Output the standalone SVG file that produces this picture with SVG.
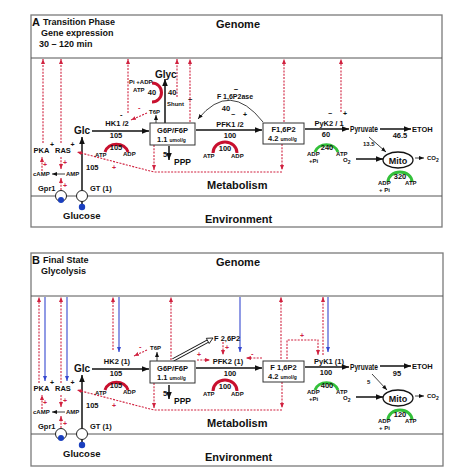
<svg xmlns="http://www.w3.org/2000/svg" width="474" height="474" viewBox="0 0 474 474">
<defs>
<style>
text{font-family:"Liberation Sans",Arial,sans-serif;fill:#111;font-weight:bold;font-size:7.5px}
.big{font-size:11px}
.ttl{font-size:9px}
.sm{font-size:6px}
.xs{font-size:5px}
.sg{font-size:7px}
.mid{text-anchor:middle}
.red{fill:#d0213f}
.frame{fill:none;stroke:#7a7a7a;stroke-width:1.3}
.sep{stroke:#555;stroke-width:1}
.box{fill:#fff;stroke:#333;stroke-width:1}
.flow{stroke:#111;stroke-width:1.5;fill:none;marker-end:url(#hk)}
.thin{stroke:#111;stroke-width:0.8;fill:none;marker-end:url(#hks)}
.gene{stroke:#d0213f;stroke-width:1.1;stroke-dasharray:2 1.3;fill:none;marker-end:url(#hr)}
.blue{stroke:#3548d0;stroke-width:1.1;fill:none;marker-end:url(#hb)}
.arcR{stroke:#c8102e;stroke-width:3;fill:none}
.arcG{stroke:#33c03a;stroke-width:3;fill:none}
.circ{fill:#fff;stroke:#222;stroke-width:1}
.dot{fill:#1a3fbf}
</style>
<marker id="hk" viewBox="0 0 10 10" refX="10" refY="5" markerWidth="7" markerHeight="7" orient="auto" markerUnits="userSpaceOnUse"><path d="M0,1 L10,5 L0,9 z" fill="#111"/></marker>
<marker id="hks" viewBox="0 0 10 10" refX="10" refY="5" markerWidth="5" markerHeight="5" orient="auto" markerUnits="userSpaceOnUse"><path d="M0,1 L10,5 L0,9 z" fill="#111"/></marker>
<marker id="hr" viewBox="0 0 10 10" refX="10" refY="5" markerWidth="5" markerHeight="5" orient="auto" markerUnits="userSpaceOnUse"><path d="M0,1 L10,5 L0,9 z" fill="#d0213f"/></marker>
<marker id="hb" viewBox="0 0 10 10" refX="10" refY="5" markerWidth="5" markerHeight="5" orient="auto" markerUnits="userSpaceOnUse"><path d="M0,1 L10,5 L0,9 z" fill="#3548d0"/></marker>
</defs>
<rect width="474" height="474" fill="#fff"/>

<!-- ================= PANEL A ================= -->
<g id="panelA-frame">
<rect class="frame" x="31" y="15" width="411" height="212"/>
<line class="sep" x1="31" y1="58" x2="442" y2="58"/>
<line class="sep" x1="31" y1="196" x2="442" y2="196"/>
<text x="32" y="26" class="big">A</text>
<text x="43" y="25" class="ttl">Transition Phase</text>
<text x="41" y="36" class="ttl">Gene expression</text>
<text x="39" y="47" class="ttl">30 – 120 min</text>
<text x="216" y="28" class="big">Genome</text>
<text x="207" y="189" class="big">Metabolism</text>
<text x="205" y="223" class="big">Environment</text>
</g>

<g id="connectors-A">
<line class="gene" x1="43" y1="143" x2="43" y2="59"/>
<line class="gene" x1="61" y1="143" x2="61" y2="59"/>
<line class="gene" x1="128" y1="113" x2="128" y2="59"/>
<line class="gene" x1="177" y1="97" x2="177" y2="59"/>
<line class="gene" x1="190" y1="122" x2="190" y2="59"/>
<line class="gene" x1="284" y1="122" x2="284" y2="59"/>
<line class="gene" x1="341" y1="112" x2="341" y2="59"/>
<line class="flow" x1="82" y1="207" x2="82" y2="137"/>
<line class="flow" x1="92" y1="131" x2="149" y2="131"/>
<line class="flow" x1="196" y1="130" x2="262" y2="130"/>
<line class="flow" x1="305" y1="129" x2="349" y2="129"/>
<line class="flow" x1="380" y1="129" x2="411" y2="129"/>
<line class="flow" x1="165" y1="123" x2="165" y2="79"/>
<line class="flow" x1="169" y1="146" x2="169" y2="160"/>
<line class="flow" x1="356" y1="159" x2="383" y2="159"/>
<line class="thin" x1="415" y1="158" x2="424" y2="158"/>
<line class="thin" x1="369" y1="137" x2="386" y2="152"/>
<line class="thin" x1="156" y1="123" x2="156" y2="115"/>
<line class="thin" x1="65" y1="174" x2="52" y2="174"/>
<path class="thin" d="M263,122 Q230,80 198,119"/>
<line class="gene" x1="42" y1="171" x2="42" y2="157"/>
<line class="gene" x1="61" y1="157" x2="61" y2="169"/>
<line class="gene" x1="61" y1="190" x2="61" y2="178"/>
<line class="gene" x1="147" y1="113" x2="131" y2="120"/>
<line class="gene" x1="154" y1="145" x2="154" y2="170"/>
<line class="gene" x1="282" y1="144" x2="282" y2="170"/>
<path class="gene" d="M282,172 H154 L77,152"/>
</g>

<g id="A-signals-text">
<text x="43" y="167" class="red sg">+</text>
<text x="63" y="165" class="red sg">+</text>
<text x="63" y="188" class="red sg">+</text>
<text x="112" y="170" class="red sg">+</text>
<text x="138" y="110" class="red">-</text>
<text x="120" y="117">-</text>
<text x="188" y="102">−</text>
<text x="231" y="117" class="sg">−</text>
<text x="243" y="117" class="sg">+</text>
<text x="328" y="116" class="sg">−</text>
<text x="343" y="116" class="sg">+</text>
</g>

<g id="A-PKA"><text x="33.5" y="153">PKA</text><text x="50" y="147" class="sg">+</text></g>
<g id="A-RAS"><text x="55" y="153">RAS</text><text x="70.5" y="147" class="sg">+</text></g>
<g id="A-cAMP"><text x="33" y="176" class="sm">cAMP</text></g>
<g id="A-AMP"><text x="66" y="176" class="sm">AMP</text></g>
<g id="A-Gpr1"><circle class="circ" cx="61" cy="196" r="5.5"/><circle class="dot" cx="61" cy="200" r="3"/><text x="38" y="191">Gpr1</text></g>
<g id="A-GT"><circle class="circ" cx="82" cy="196" r="5.5"/><circle class="dot" cx="82" cy="207" r="3.2"/><text x="90" y="191">GT (1)</text></g>
<g id="A-Glucose"><text x="63" y="219" style="font-size:9.5px">Glucose</text></g>
<g id="A-Glc"><text x="74" y="134" style="font-size:10px">Glc</text><text x="86" y="170">105</text></g>
<g id="A-HK"><text x="117" y="126" class="mid">HK1 /2</text><text x="116" y="138" class="mid">105</text>
<path class="arcR" d="M105,152 A12,11 0 0 1 128,152"/><text x="116" y="150" class="mid">105</text>
<text x="95" y="157" class="sm">ATP</text><text x="123" y="156" class="sm">ADP</text></g>
<g id="A-G6P"><rect class="box" x="150" y="123" width="45" height="22"/><text x="172.5" y="133" class="mid">G6P/F6P</text><text x="157" y="142">1.1 <tspan class="xs">umol/g</tspan></text></g>
<g id="A-PPP"><text x="163" y="157">5</text><text x="174" y="165" style="font-size:8.5px">PPP</text></g>
<g id="A-Glyc"><text x="155" y="78" style="font-size:10px">Glyc</text><text x="168" y="95">40</text>
<path class="arcR" d="M152,83 A9.5,9.5 0 0 1 152,102"/><text x="152" y="95" class="mid">40</text>
<text x="129" y="84" class="sm">Pi +ADP</text><text x="133" y="92" class="sm">ATP</text><text x="167" y="106" class="sm">Shunt</text></g>
<g id="A-T6P"><text x="149" y="114" class="sm">T6P</text></g>
<g id="A-F16P2ase"><text x="236" y="92" class="mid">−</text><text x="235" y="99" class="mid" style="font-size:7px">F 1,6P2ase</text><text x="226" y="111" class="mid">40</text></g>
<g id="A-PFK"><text x="230" y="127" class="mid">PFK1 /2</text><text x="230" y="138" class="mid">100</text>
<path class="arcR" d="M213,153 A12,11 0 0 1 237,153"/><text x="225" y="151" class="mid">100</text>
<text x="203" y="158" class="sm">ATP</text><text x="231" y="158" class="sm">ADP</text></g>
<g id="A-F16P2"><rect class="box" x="263" y="123" width="41" height="21"/><text x="283.5" y="132" class="mid">F1,6P2</text><text x="268" y="141">4.2 <tspan class="xs">umol/g</tspan></text></g>
<g id="A-PyK"><text x="329" y="126" class="mid">PyK2 / 1</text><text x="326" y="137" class="mid">60</text>
<path class="arcG" d="M315,152 A12,10 0 0 1 338,152"/><text x="327" y="150" class="mid">240</text>
<text x="307" y="156" class="sm">ADP</text><text x="309" y="163" class="sm">+Pi</text><text x="336" y="156" class="sm">ATP</text></g>
<g id="A-Pyruvate"><text x="350" y="132" textLength="28" lengthAdjust="spacingAndGlyphs" style="font-size:8.5px">Pyruvate</text><text x="400" y="138" class="mid">46.5</text><text x="363" y="146" class="sm">13.5</text></g>
<g id="A-ETOH"><text x="412" y="132">ETOH</text></g>
<g id="A-Mito"><ellipse cx="398" cy="160" rx="15" ry="8" fill="#fff" stroke="#111" stroke-width="1.3"/><text x="398" y="163.5" class="mid" style="font-size:9px">Mito</text>
<path class="arcG" d="M388,182 A12,10 0 0 1 412,182"/><text x="400" y="179" class="mid">320</text>
<text x="378" y="185" class="sm">ADP</text><text x="379" y="192" class="sm">+ Pi</text><text x="405" y="185" class="sm">ATP</text></g>
<g id="A-O2"><text x="343" y="162" class="sm">O<tspan class="xs" dy="1.5">2</tspan></text></g>
<g id="A-CO2"><text x="427" y="160" class="sm">CO<tspan class="xs" dy="1.5">2</tspan></text></g>

<!-- ================= PANEL B ================= -->
<g id="panelB-frame">
<rect class="frame" x="31" y="253" width="412" height="213"/>
<line class="sep" x1="31" y1="296" x2="443" y2="296"/>
<line class="sep" x1="31" y1="434" x2="443" y2="434"/>
<text x="32" y="264" class="big">B</text>
<text x="43" y="263" class="ttl">Final State</text>
<text x="41" y="274" class="ttl">Glycolysis</text>
<text x="216" y="266" class="big">Genome</text>
<text x="207" y="427" class="big">Metabolism</text>
<text x="205" y="461" class="big">Environment</text>
</g>

<g id="connectors-B">
<line class="gene" x1="39" y1="383" x2="39" y2="297"/>
<line class="gene" x1="61" y1="383" x2="61" y2="297"/>
<line class="gene" x1="113" y1="350" x2="113" y2="297"/>
<line class="gene" x1="171" y1="360" x2="171" y2="297"/>
<line class="gene" x1="281" y1="359" x2="281" y2="297"/>
<line class="gene" x1="323" y1="355" x2="323" y2="297"/>
<line class="blue" x1="45" y1="297" x2="45" y2="381"/>
<line class="blue" x1="67" y1="297" x2="67" y2="381"/>
<line class="blue" x1="119" y1="297" x2="119" y2="352"/>
<line class="blue" x1="240" y1="297" x2="240" y2="352"/>
<line class="blue" x1="328" y1="297" x2="328" y2="352"/>
<line class="flow" x1="82" y1="445" x2="82" y2="375"/>
<line class="flow" x1="92" y1="369" x2="149" y2="369"/>
<line class="flow" x1="196" y1="368" x2="262" y2="368"/>
<line class="flow" x1="305" y1="367" x2="349" y2="367"/>
<line class="flow" x1="380" y1="366" x2="411" y2="366"/>
<line class="flow" x1="169" y1="385" x2="169" y2="399"/>
<line class="flow" x1="356" y1="397" x2="383" y2="397"/>
<line class="thin" x1="415" y1="396" x2="424" y2="396"/>
<line class="thin" x1="372" y1="374" x2="387" y2="390"/>
<line class="thin" x1="157" y1="361" x2="157" y2="352"/>
<line class="thin" x1="65" y1="412" x2="52" y2="412"/>
<line x1="173" y1="360" x2="208" y2="341" stroke="#111" stroke-width="3.6"/>
<line x1="172" y1="360.5" x2="209" y2="340.5" stroke="#fff" stroke-width="1.6"/>
<polygon points="213,338 209.2,343.5 206.3,338.3" fill="#fff" stroke="#111" stroke-width="0.9"/>
<line class="gene" x1="42" y1="409" x2="42" y2="395"/>
<line class="gene" x1="61" y1="395" x2="61" y2="407"/>
<line class="gene" x1="61" y1="428" x2="61" y2="416"/>
<line class="gene" x1="147" y1="350" x2="134" y2="356"/>
<line class="gene" x1="223" y1="342" x2="223" y2="355"/>
<line class="gene" x1="197" y1="360" x2="210" y2="360"/>
<line class="gene" x1="262" y1="358" x2="246" y2="358"/>
<path class="gene" d="M287,359 V340 H318 V355"/>
<line class="gene" x1="154" y1="383" x2="154" y2="408"/>
<line class="gene" x1="282" y1="382" x2="282" y2="408"/>
<path class="gene" d="M282,410 H154 L77,390"/>
</g>

<g id="B-signals-text">
<text x="43" y="405" class="red sg">+</text>
<text x="63" y="403" class="red sg">+</text>
<text x="63" y="426" class="red sg">+</text>
<text x="112" y="408" class="red sg">+</text>
<text x="139" y="349" class="red">-</text>
<text x="225" y="350" class="red sg">+</text>
<text x="197" y="357" class="red sg">+</text>
<text x="251" y="356" class="red">-</text>
<text x="300" y="338" class="red sg">+</text>
</g>

<g id="B-PKA"><text x="33.5" y="391">PKA</text><text x="50" y="385" class="sg">+</text></g>
<g id="B-RAS"><text x="55" y="391">RAS</text><text x="70.5" y="385" class="sg">+</text></g>
<g id="B-cAMP"><text x="33" y="414" class="sm">cAMP</text></g>
<g id="B-AMP"><text x="66" y="414" class="sm">AMP</text></g>
<g id="B-Gpr1"><circle class="circ" cx="61" cy="434" r="5.5"/><circle class="dot" cx="61" cy="438" r="3"/><text x="38" y="429">Gpr1</text></g>
<g id="B-GT"><circle class="circ" cx="82" cy="434" r="5.5"/><circle class="dot" cx="82" cy="445" r="3.2"/><text x="90" y="429">GT (1)</text></g>
<g id="B-Glucose"><text x="63" y="457" style="font-size:9.5px">Glucose</text></g>
<g id="B-Glc"><text x="74" y="372" style="font-size:10px">Glc</text><text x="86" y="408">105</text></g>
<g id="B-HK"><text x="117" y="364" class="mid">HK2 (1)</text><text x="116" y="376" class="mid">105</text>
<path class="arcR" d="M105,390 A12,11 0 0 1 128,390"/><text x="116" y="388" class="mid">105</text>
<text x="95" y="395" class="sm">ATP</text><text x="123" y="394" class="sm">ADP</text></g>
<g id="B-G6P"><rect class="box" x="150" y="361" width="45" height="22"/><text x="172.5" y="371" class="mid">G6P/F6P</text><text x="157" y="380">1.1 <tspan class="xs">umol/g</tspan></text></g>
<g id="B-PPP"><text x="163" y="396">5</text><text x="174" y="404" style="font-size:8.5px">PPP</text></g>
<g id="B-T6P"><text x="150" y="350" class="sm">T6P</text></g>
<g id="B-F26P2"><text x="214" y="341">F 2,6P2</text></g>
<g id="B-PFK"><text x="228" y="364" class="mid">PFK2 (1)</text><text x="230" y="376" class="mid">100</text>
<path class="arcR" d="M213,391 A12,11 0 0 1 237,391"/><text x="225" y="389" class="mid">100</text>
<text x="203" y="396" class="sm">ATP</text><text x="231" y="396" class="sm">ADP</text></g>
<g id="B-F16P2"><rect class="box" x="263" y="361" width="41" height="21"/><text x="283.5" y="370" class="mid">F 1,6P2</text><text x="268" y="379">4.2 <tspan class="xs">umol/g</tspan></text></g>
<g id="B-PyK"><text x="329" y="364" class="mid">PyK1 (1)</text><text x="326" y="375" class="mid">100</text>
<path class="arcG" d="M315,390 A12,10 0 0 1 338,390"/><text x="327" y="388" class="mid">400</text>
<text x="307" y="394" class="sm">ADP</text><text x="309" y="401" class="sm">+Pi</text><text x="336" y="394" class="sm">ATP</text></g>
<g id="B-Pyruvate"><text x="350" y="370" textLength="28" lengthAdjust="spacingAndGlyphs" style="font-size:8.5px">Pyruvate</text><text x="397" y="376" class="mid">95</text><text x="367" y="384" class="sm">5</text></g>
<g id="B-ETOH"><text x="412" y="369">ETOH</text></g>
<g id="B-Mito"><ellipse cx="398" cy="398" rx="15" ry="8" fill="#fff" stroke="#111" stroke-width="1.3"/><text x="398" y="401.5" class="mid" style="font-size:9px">Mito</text>
<path class="arcG" d="M388,420 A12,10 0 0 1 412,420"/><text x="400" y="417" class="mid">120</text>
<text x="378" y="423" class="sm">ADP</text><text x="379" y="430" class="sm">+ Pi</text><text x="405" y="423" class="sm">ATP</text></g>
<g id="B-O2"><text x="343" y="400" class="sm">O<tspan class="xs" dy="1.5">2</tspan></text></g>
<g id="B-CO2"><text x="427" y="398" class="sm">CO<tspan class="xs" dy="1.5">2</tspan></text></g>
</svg>
